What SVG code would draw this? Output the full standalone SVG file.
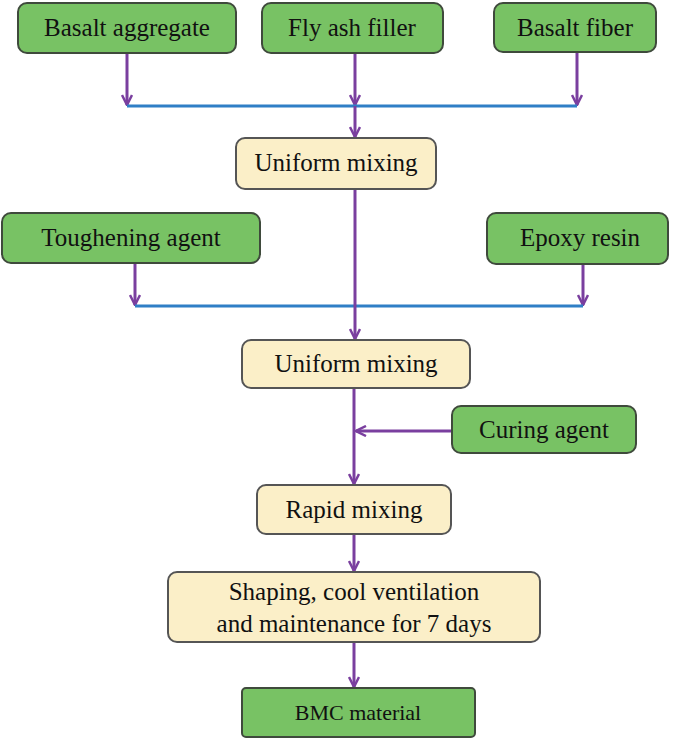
<svg xmlns="http://www.w3.org/2000/svg" width="685" height="739" viewBox="0 0 685 739">
<style>
.g{fill:#78c264;stroke:#3f4a3c;stroke-width:2}
.b{fill:#fbefc8;stroke:#555;stroke-width:2}
text{font-family:"Liberation Serif",serif;font-size:25px;fill:#111;text-anchor:middle}
.p{stroke:#7a3f9f;stroke-width:3;fill:none}
.bl{stroke:#2f7fc6;stroke-width:3;fill:none}
</style>
<defs>
<marker id="a" viewBox="0 0 12 12" refX="11" refY="6" markerWidth="12" markerHeight="12" markerUnits="userSpaceOnUse" orient="auto">
<path d="M1,1 L11,6 L1,11" fill="none" stroke="#7a3f9f" stroke-width="2.5"/>
</marker>
</defs>
<g id="connectors">
<path class="p" d="M127,53 V105" marker-end="url(#a)"/>
<path class="p" d="M355,53 V105" marker-end="url(#a)"/>
<path class="p" d="M577,52 V105" marker-end="url(#a)"/>
<path class="bl" d="M127,106 H577"/>
<path class="p" d="M355,106 V137" marker-end="url(#a)"/>
<path class="p" d="M135,263 V305" marker-end="url(#a)"/>
<path class="p" d="M583,264 V305" marker-end="url(#a)"/>
<path class="bl" d="M135,306 H583"/>
<path class="p" d="M355,189 V339" marker-end="url(#a)"/>
<path class="p" d="M354,388 V484" marker-end="url(#a)"/>
<path class="p" d="M452,431 H356" marker-end="url(#a)"/>
<path class="p" d="M354,534 V571" marker-end="url(#a)"/>
<path class="p" d="M354,642 V687" marker-end="url(#a)"/>
</g>
<g id="basalt-aggregate"><rect class="g" x="18" y="3" width="218" height="50" rx="9"/><text x="127" y="36">Basalt aggregate</text></g>
<g id="fly-ash"><rect class="g" x="262" y="3" width="181" height="50" rx="9"/><text x="352" y="36">Fly ash filler</text></g>
<g id="basalt-fiber"><rect class="g" x="494" y="3" width="162" height="49" rx="9"/><text x="575" y="36">Basalt fiber</text></g>
<g id="uniform1"><rect class="b" x="236" y="138" width="200" height="51" rx="9"/><text x="336" y="171">Uniform mixing</text></g>
<g id="toughening"><rect class="g" x="2" y="213" width="258" height="50" rx="9"/><text x="131" y="246">Toughening agent</text></g>
<g id="epoxy"><rect class="g" x="487" y="213" width="181" height="51" rx="9"/><text x="580" y="246">Epoxy resin</text></g>
<g id="uniform2"><rect class="b" x="242" y="340" width="228" height="48" rx="9"/><text x="356" y="372">Uniform mixing</text></g>
<g id="curing"><rect class="g" x="452" y="406" width="184" height="47" rx="9"/><text x="544" y="438">Curing agent</text></g>
<g id="rapid"><rect class="b" x="257" y="485" width="194" height="49" rx="9"/><text x="354" y="518">Rapid mixing</text></g>
<g id="shaping"><rect class="b" x="168" y="572" width="372" height="70" rx="9"/><text x="354" y="600">Shaping, cool ventilation</text><text x="354" y="632">and maintenance for 7 days</text></g>
<g id="bmc"><rect class="g" x="242" y="688" width="233" height="49" rx="4"/><text x="358" y="720" style="font-size:22px">BMC material</text></g>
</svg>
